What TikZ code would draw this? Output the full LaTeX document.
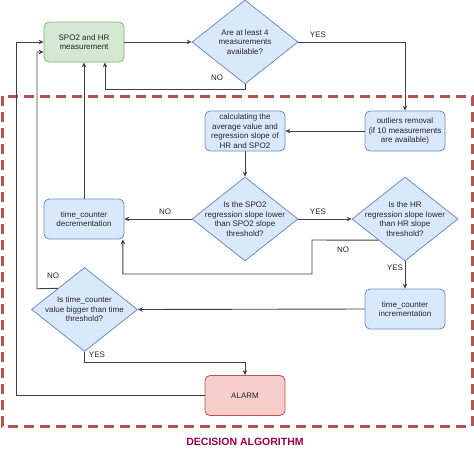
\documentclass[tikz,border=0pt]{standalone}
\usepackage{fontspec}
\setmainfont{Liberation Sans}
\usetikzlibrary{shapes.geometric,arrows.meta,calc}
\definecolor{gfill}{HTML}{D5E8D4}
\definecolor{gdraw}{HTML}{82B366}
\definecolor{bfill}{HTML}{DAE8FC}
\definecolor{bdraw}{HTML}{6C8EBF}
\definecolor{rfill}{HTML}{F8CECC}
\definecolor{rdraw}{HTML}{B85450}
\definecolor{lnc}{HTML}{404040}
\definecolor{ttl}{HTML}{99004D}
\tikzset{
  box/.style={rectangle, rounded corners=5pt, minimum width=80pt, minimum height=40pt, inner sep=1pt, align=center, font=\fontsize{8}{9.5}\selectfont, text=black!85},
  gbox/.style={box, draw=gdraw, fill=gfill, line width=0.8pt},
  bbox/.style={box, draw=bdraw, fill=bfill, line width=0.8pt},
  rbox/.style={box, draw=rdraw, fill=rfill, line width=0.8pt},
  dec/.style={diamond, draw=bdraw, fill=bfill, line width=0.8pt, minimum width=106pt, minimum height=84pt, inner sep=0pt},
  dtxt/.style={align=center, inner sep=0pt, font=\fontsize{8}{9.5}\selectfont, text=black!85},
  lbl/.style={inner sep=0pt, font=\fontsize{8}{9.5}\selectfont, text=black!85},
  arr/.style={draw=lnc, line width=0.9pt, -{Stealth[length=5pt,width=4.5pt]}},
}
\begin{document}
\begin{tikzpicture}[x=1pt,y=-1pt]
\useasboundingbox (0,0) rectangle (474,448);
\fill[white] (0,0) rectangle (474,448);
% dashed frame
\draw[rdraw, line width=3pt, dash pattern=on 10pt off 6pt] (2,96) rectangle (472,426);
\node[font=\bfseries\fontsize{10.5}{12}\selectfont, text=ttl] (title) at (245,442) {DECISION ALGORITHM};
% nodes
\node[gbox] (sp) at (84,42) {SPO2 and HR\\measurement};
\node[dec] (d1) at (245,42) {};
\node[dtxt] (d1t) at (d1.center) {Are at least 4\\measurements\\available?};
\node[bbox] (out) at (405,131) {outliers removal\\(if 10 measurements\\are available)};
\node[bbox] (calc) at (245,131) {calculating the\\average value and\\regression slope of\\HR and SPO2};
\node[dec] (d2) at (245,219) {};
\node[dtxt] (d2t) at (d2.center) {Is the SPO2\\regression slope lower\\than SPO2 slope\\threshold?};
\node[bbox] (dcr) at (84,219) {time\_counter\\decrementation};
\node[dec] (d3) at (405,219) {};
\node[dtxt] (d3t) at (d3.center) {Is the HR\\regression slope lower\\than HR slope\\threshold?};
\node[bbox] (inc) at (405,309) {time\_counter\\incrementation};
\node[dec] (d4) at (84.5,309.5) {};
\node[dtxt] (d4t) at (d4.center) {Is time\_counter\\value bigger than time\\threshold?};
\node[rbox] (al) at (245,395.5) {ALARM};
\coordinate (d3sw) at ($(d3.south)!0.5!(d3.west)$);
\coordinate (d4nw) at ($(d4.north)!0.5!(d4.west)$);
% connectors
\draw[arr] (sp.east) -- (d1.west);
\draw[arr] (d1.east) -| (out.north);
\node[lbl] (y1) at (318,35) {YES};
\draw[arr] (d1.south) -- ++(0,5) -| ([xshift=21pt]sp.south);
\node[lbl] (n1) at (217,78) {NO};
\draw[arr] (out.west) -- (calc.east);
\draw[arr] (calc.south) -- (d2.north);
\draw[arr] (d2.west) -- (dcr.east);
\node[lbl] (n2) at (165,212) {NO};
\draw[arr] (d2.east) -- (d3.west);
\node[lbl] (y2) at (318,212) {YES};
\draw[arr] (d3sw) -- (312,240) -- (312,274) -| ([xshift=-1.5pt]dcr.south east);
\node[lbl] (n3) at (343,250) {NO};
\draw[arr] (d3.south) -- (inc.north);
\node[lbl] (y3) at (395,268) {YES};
\draw[arr] (inc.west) -- (d4.east);
\draw[arr] (d4nw) -- (37,288.75) |- ([yshift=-10pt]sp.west);
\node[lbl] (n4) at (53,276) {NO};
\draw[arr] (d4.south) -- ++(0,11) -| (al.north);
\node[lbl] (y4) at (97,355) {YES};
\draw[arr] (al.west) -- (16,395.5) |- (sp.west);
\draw[arr] (dcr.north) -- (sp.south);
\end{tikzpicture}
\end{document}
